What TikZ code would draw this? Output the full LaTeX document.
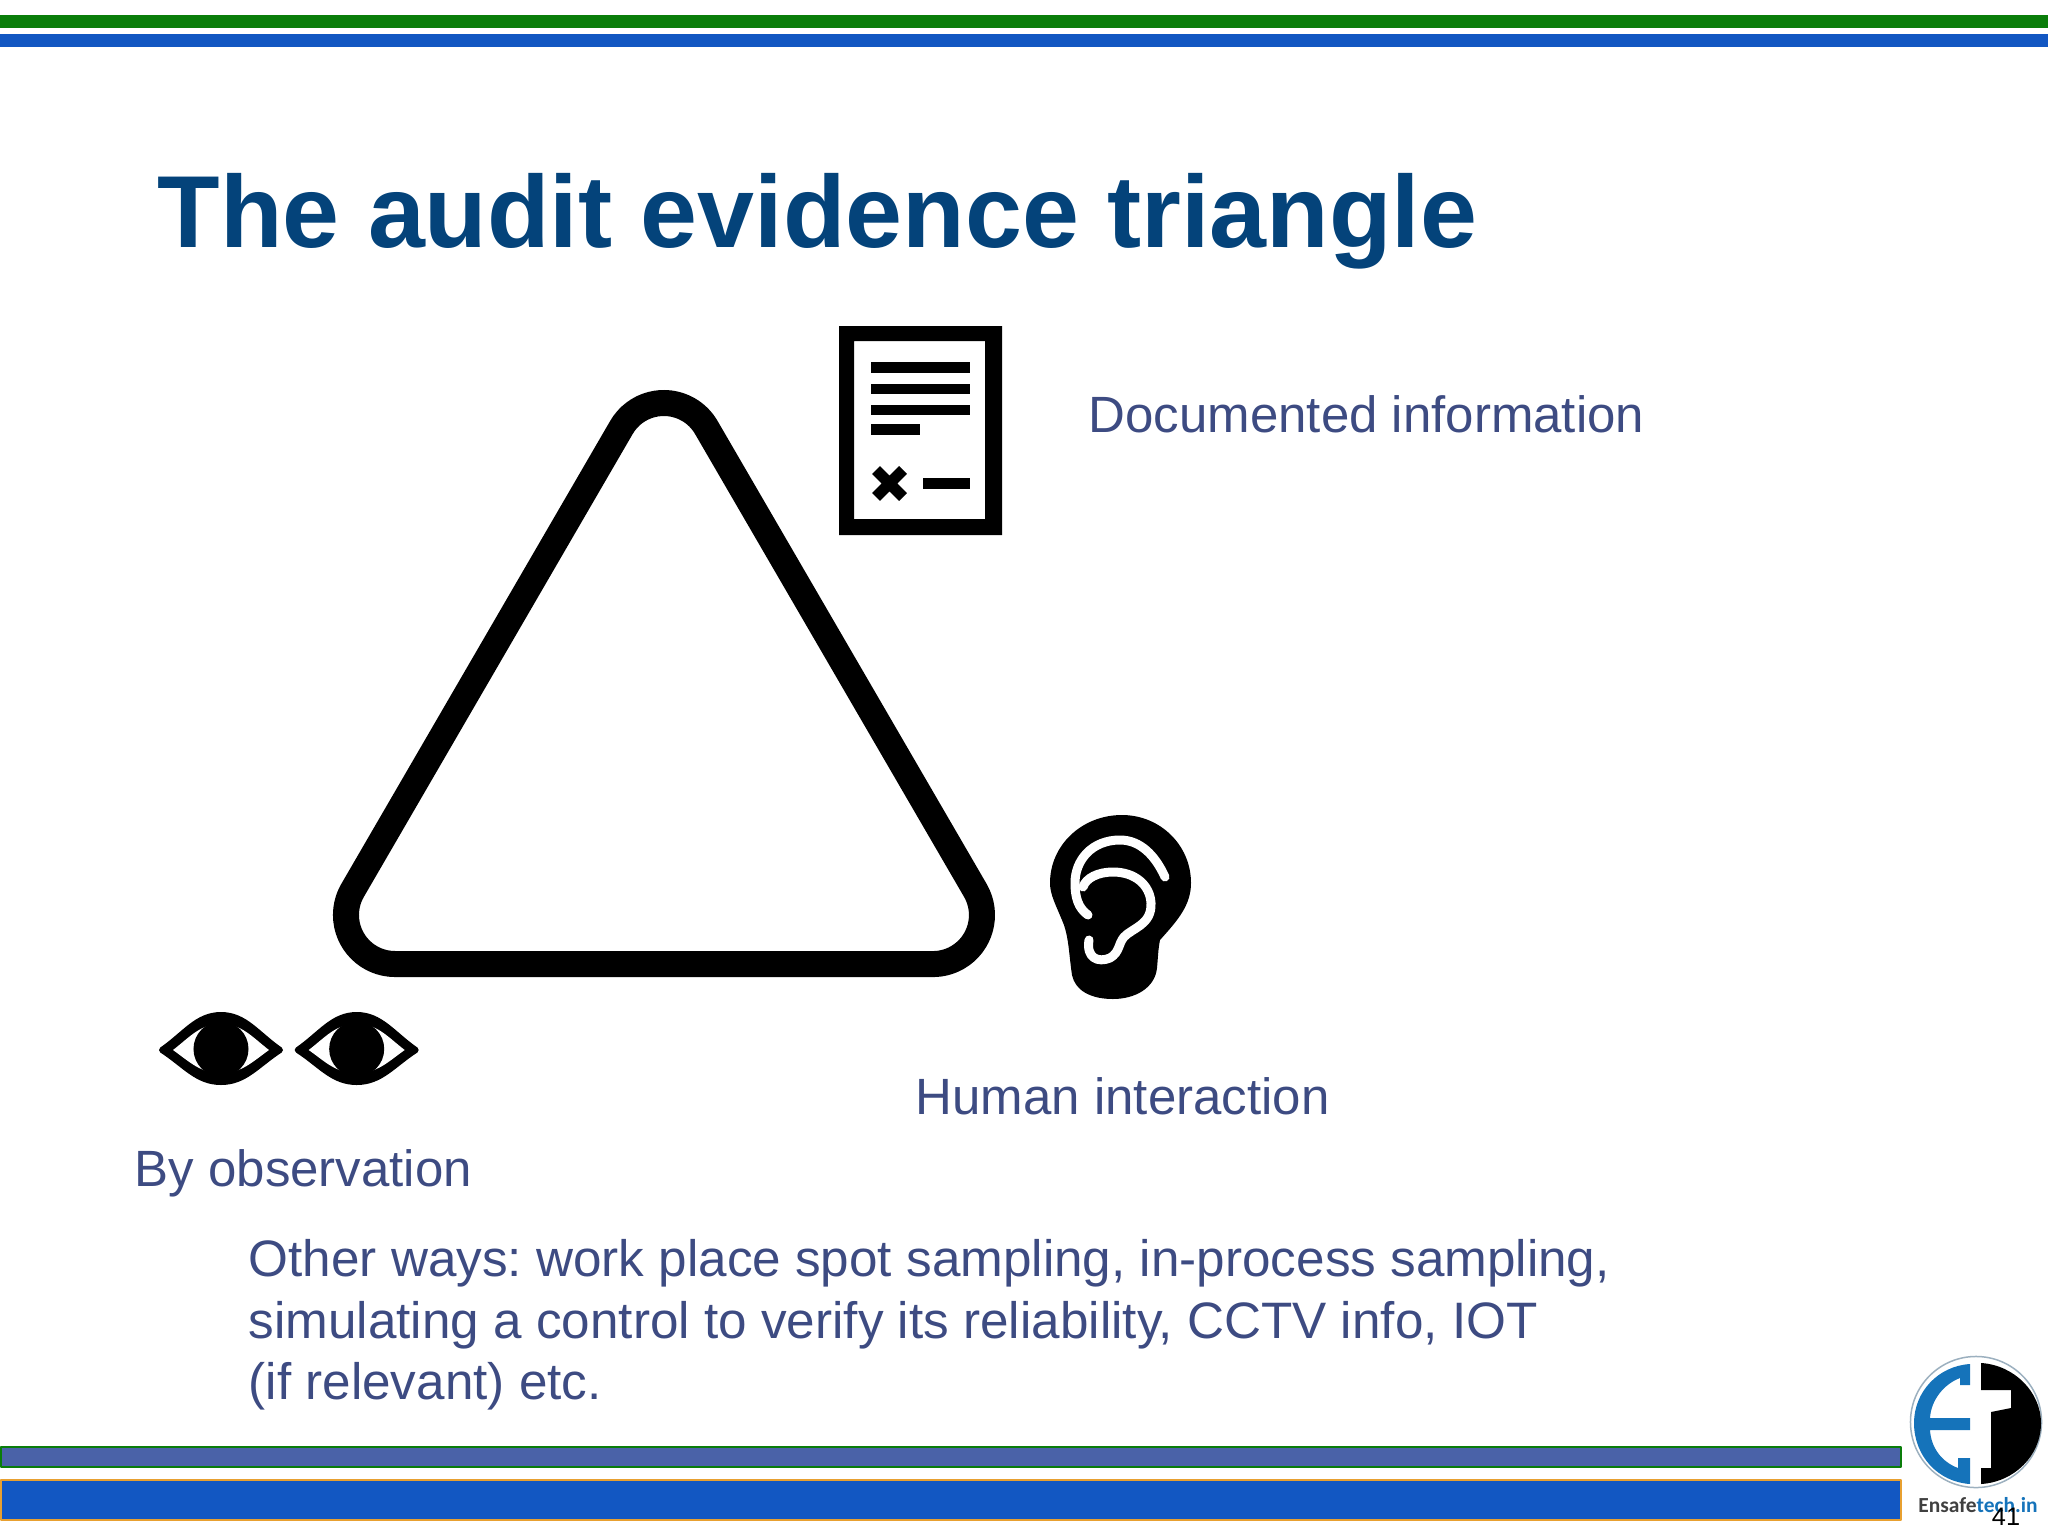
\documentclass[tikz,border=0pt]{standalone}
\usepackage{fontspec}
\setmainfont{Liberation Sans}
\newfontfamily\logofont{Carlito}
\usepackage{tikz}
\definecolor{titleblue}{HTML}{04437A}
\definecolor{bodyblue}{HTML}{3D4B82}
\definecolor{bargreen}{HTML}{0A7D0A}
\definecolor{barblue}{HTML}{1257C2}
\definecolor{barmid}{HTML}{4A62A8}
\definecolor{barorange}{HTML}{E8A030}
\definecolor{logoblue}{HTML}{1573BA}
\frenchspacing
\begin{document}
\begin{tikzpicture}
[x=0.01cm,y=-0.01cm,line join=round]
\tikzstyle{body}=[anchor=base west,inner sep=0pt,text=bodyblue,font=\fontsize{14.5pt}{17.4pt}\selectfont,align=left]
\tikzstyle{para}=[body,font=\fontsize{14.57pt}{17.4pt}\selectfont]
\tikzstyle{ink}=[fill=black,draw=none]
\tikzstyle{cut}=[draw=white,line width=0.09cm,line cap=round,fill=none]
\useasboundingbox (0,0) rectangle (2048,1536);

% bars
\fill[bargreen] (0,15) rectangle (2048,28);
\fill[barblue] (0,34) rectangle (2048,47);
\draw[bargreen,line width=0.02cm,fill=barmid] (1,1447) rectangle (1901,1467);
\draw[barorange,line width=0.02cm,fill=barblue] (1,1480) rectangle (1901,1520);

\node[anchor=base west,inner sep=0pt,text=titleblue,font=\fontsize{29.1pt}{34pt}\selectfont\bfseries] (title) at (157,247) {The audit evidence triangle};

% triangle
\draw[line width=0.26cm] (621.4,427.5) arc (150:30:0.49cm) -- (975.4,890.5) arc (30:-90:0.49cm)
 -- (395,964) arc (270:150:0.49cm) -- cycle;

% document
\fill[ink,even odd rule] (839,326) rectangle (1002,535) (854,341) rectangle (985,519);
\fill[ink] (871,362) rectangle (970,373);
\fill[ink] (871,384) rectangle (970,394);
\fill[ink] (871,405) rectangle (970,415);
\fill[ink] (871,424) rectangle (920,435);
\fill[ink] (923,478) rectangle (970,489);
\draw[line width=0.11cm] (876,470) -- (903,497) (903,470) -- (876,497);

% ear
\fill[ink] (1122,815) .. controls (1160,815) and (1191,845) .. (1191,883)
 .. controls (1191,905) and (1178,920) .. (1160,940)
 .. controls (1158,950) and (1158,958) .. (1157,968)
 .. controls (1155,988) and (1135,999) .. (1113,999)
 .. controls (1090,999) and (1075,990) .. (1072,975)
 .. controls (1069,955) and (1069,940) .. (1064,925)
 .. controls (1056,905) and (1050,895) .. (1050,883)
 .. controls (1050,845) and (1082,815) .. (1122,815) -- cycle;
\draw[cut] (1165,877) .. controls (1155,855) and (1140,840) .. (1120,840)
 .. controls (1092,840) and (1075,860) .. (1075,883)
 .. controls (1075,897) and (1078,908) .. (1088,915);
\draw[cut] (1083,887) .. controls (1086,878) and (1098,872) .. (1113,872)
 .. controls (1135,872) and (1150,885) .. (1151,903)
 .. controls (1152,925) and (1132,928) .. (1124,937)
 .. controls (1118,944) and (1120,952) .. (1110,958)
 .. controls (1098,963) and (1086,958) .. (1089,940);

% eyes
\foreach \dx in {0,135.7}{
\begin{scope}[xshift=\dx*0.01cm]
\filldraw[draw=black,line width=0.06cm] (162,1050) .. controls (185,1034) and (197,1015) .. (221,1015)
 .. controls (245,1015) and (257,1034) .. (280,1050)
 .. controls (257,1065) and (245,1082) .. (221,1082)
 .. controls (197,1082) and (185,1065) .. (162,1050) -- cycle;
\fill[white] (173,1050) .. controls (190,1037) and (200,1024) .. (221,1024)
 .. controls (242,1024) and (252,1037) .. (269,1050)
 .. controls (252,1062) and (242,1073) .. (221,1073)
 .. controls (200,1073) and (190,1062) .. (173,1050) -- cycle;
\fill[ink] (221,1049) circle (0.275cm);
\end{scope}}

% labels
\node[body] (doc) at (1088,432) {Documented information};
\node[body] (human) at (915,1114) {Human interaction};
\node[body] (obs) at (134,1186) {By observation};
\node[para] (other1) at (248,1276) {Other ways: work place spot sampling, in-process sampling,};
\node[para] (other2) at (248,1338) {simulating a control to verify its reliability, CCTV info, IOT};
\node[para] (other3) at (248,1399) {(if relevant) etc.};

% logo
\draw[logoblue!35!gray!60,line width=0.015cm] (1976,1422) circle (0.655cm);
\fill[logoblue] (1970,1364) .. controls (1938,1366) and (1914,1392) .. (1914,1423)
 .. controls (1914,1456) and (1938,1482) .. (1970,1484) -- (1970,1458) -- (1958,1458) -- (1958,1468)
 .. controls (1942,1462) and (1931,1448) .. (1930,1430) -- (1970,1430) -- (1970,1418) -- (1930,1418)
 .. controls (1931,1400) and (1944,1384) .. (1960,1378) -- (1960,1385) -- (1970,1385) -- cycle;
\fill[ink] (1981,1363) .. controls (2014,1365) and (2041,1392) .. (2041,1423)
 .. controls (2041,1456) and (2014,1482) .. (1981,1484) -- (1981,1468) -- (1991,1468) -- (1991,1412)
 -- (2011,1408) -- (2011,1390) -- (1981,1390) -- cycle;
\node[anchor=base,inner sep=0pt,font=\logofont\fontsize{6.1pt}{7pt}\selectfont\bfseries] (logotext) at (1978,1512) {\textcolor{black!75}{Ensafe}\textcolor{logoblue}{tech.in}};
\node[anchor=base,inner sep=0pt,font=\fontsize{7.2pt}{8pt}\selectfont] (page) at (2006,1525) {41};
\end{tikzpicture}
\end{document}
